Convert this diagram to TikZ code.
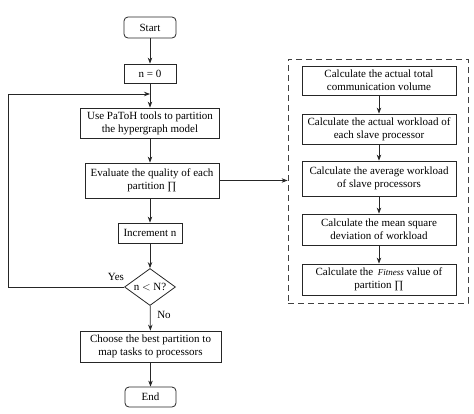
\documentclass[tikz,border=0pt]{standalone}
\usepackage{fontspec}
\setmainfont{Liberation Serif}
\usetikzlibrary{arrows.meta,shapes.geometric}
\begin{document}
\begin{tikzpicture}[x=1pt,y=-1pt,
  every node/.style={font=\fontsize{11}{13}\selectfont},
  box/.style={draw=black!85,line width=0.8pt,align=center,inner sep=1pt},
  term/.style={box,rounded corners=4pt},
  dec/.style={draw=black!85,line width=0.8pt,diamond,aspect=1.4,inner sep=0pt},
  arr/.style={draw=black!85,line width=0.8pt,-{Stealth[length=6pt,width=4.5pt]}},
  ln/.style={draw=black!85,line width=0.8pt}]
\useasboundingbox (0,0) rectangle (474,413);
\node[term,minimum width=52pt,minimum height=21pt] (start) at (150,27.5) {Start};
\node[box,minimum width=52pt,minimum height=19pt] (n0) at (150,73.5) {n = 0};
\node[box,minimum width=139pt,minimum height=30pt] (patoh) at (150,123) {Use PaToH tools to partition\\the hypergraph model};
\node[box,minimum width=134pt,minimum height=35pt] (eval) at (152,180.5) {Evaluate the quality of each\\partition ∏};
\node[box,minimum width=64pt,minimum height=20pt] (inc) at (150,233) {Increment n};
\node[dec,minimum width=51pt,minimum height=37pt] (dia) at (150,287) {n $<$ N?};
\node[box,minimum width=141pt,minimum height=31pt] (choose) at (150.5,346.5) {Choose the best partition to\\map tasks to processors};
\node[term,minimum width=51pt,minimum height=20pt] (end) at (150.5,397) {End};

\node[draw=black!75,line width=0.8pt,dash pattern=on 6pt off 4pt,minimum width=180pt,minimum height=244pt] (dash) at (378,181) {};
\node[box,minimum width=154pt,minimum height=29pt] (b1) at (379,80.5) {Calculate the actual total\\communication volume};
\node[box,minimum width=154pt,minimum height=30pt] (b2) at (379,129) {Calculate the actual workload of\\each slave processor};
\node[box,minimum width=154pt,minimum height=35pt] (b3) at (379,178.5) {Calculate the average workload\\of slave processors};
\node[box,minimum width=154pt,minimum height=31pt] (b4) at (379,229.5) {Calculate the mean square\\deviation of workload};
\node[box,minimum width=154pt,minimum height=31pt] (b5) at (379,279.5) {Calculate the \,{\small\itshape Fitness} value of\\partition ∏};

\coordinate (loopin) at (150,94);
\coordinate (lft) at (8,287);

\draw[arr] (start) -- (n0);
\draw[arr] (n0) -- (patoh);
\draw[arr] (patoh.south) -- (patoh.south |- eval.north);
\draw[arr] (patoh.south |- eval.south) -- (inc);
\draw[arr] (inc) -- (dia);
\draw[arr] (dia) -- (choose);
\draw[arr] (choose) -- (end);
\draw[ln] (dia.west) -- (lft);
\draw[arr] (lft) |- (loopin);
\draw[arr] (eval.east) -- (eval.east -| dash.west);
\draw[arr] (b1) -- (b2);
\draw[arr] (b2) -- (b3);
\draw[arr] (b3) -- (b4);
\draw[arr] (b4) -- (b5);

\node (yes) at (116,277) {Yes};
\node (no) at (164,315) {No};
\end{tikzpicture}
\end{document}
